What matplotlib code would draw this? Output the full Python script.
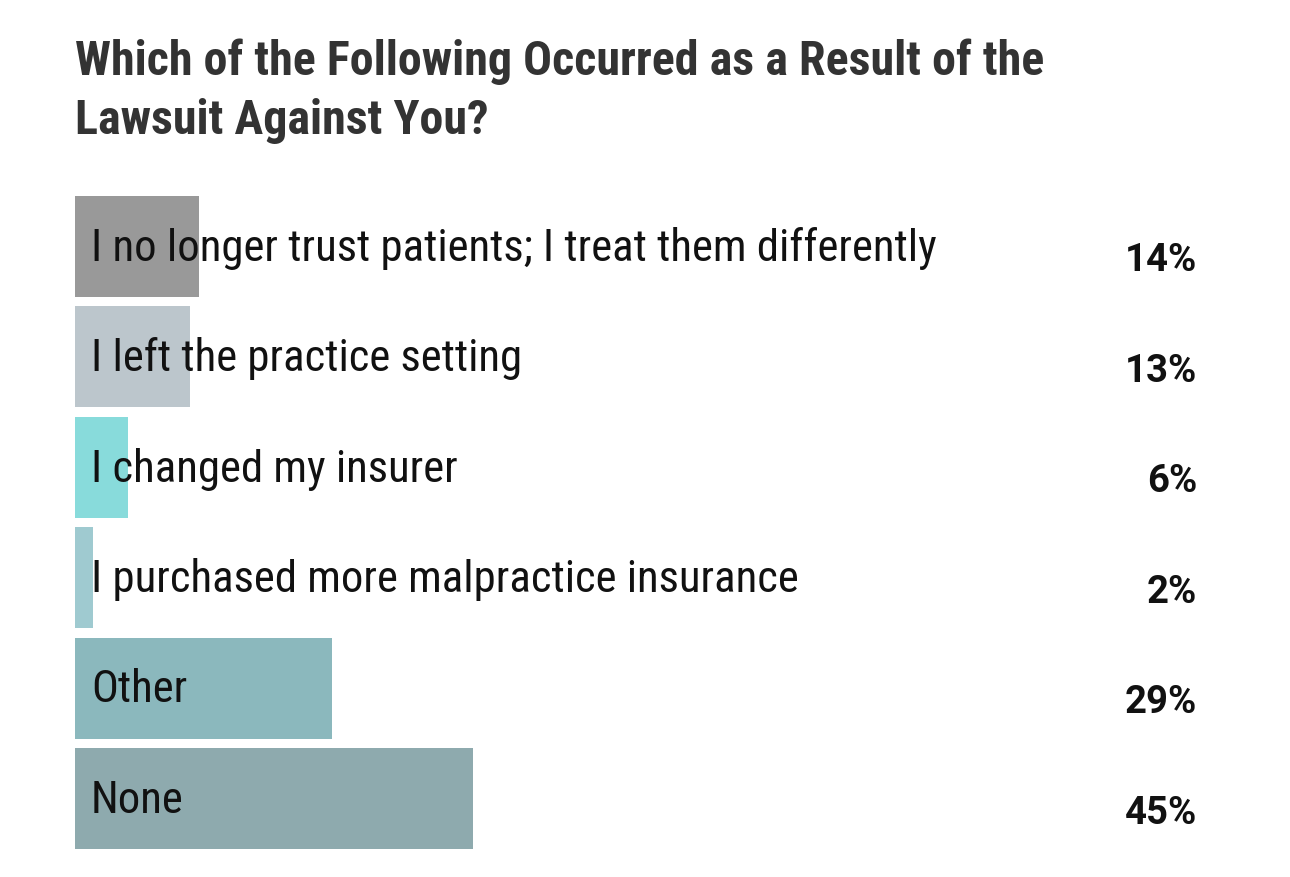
import matplotlib.pyplot as plt
from matplotlib import font_manager

# survey answers and shares (%)
answers = ['I no longer trust patients; I treat them differently',
           'I left the practice setting',
           'I changed my insurer',
           'I purchased more malpractice insurance',
           'Other',
           'None']
shares = [14, 13, 6, 2, 29, 45]
bar_colors = ['#999999', '#bcc6cc', '#88dbdb', '#9fcad0', '#8bb8bd', '#8eaaae']
title = 'Which of the Following Occurred as a Result of the\nLawsuit Against You?'

names = {f.name for f in font_manager.fontManager.ttflist}
fam = ['Roboto Condensed', 'Roboto', 'DejaVu Sans']
plt.rcParams['font.family'] = [f for f in fam if f in names] + ['DejaVu Sans']
pct_font = ['Roboto', 'DejaVu Sans']

W, H = 1290, 878
fig = plt.figure(figsize=(W / 100, H / 100), dpi=100)
ax = fig.add_axes([75 / W, 1 - 855 / H, 1120 / W, 663 / H])

px_per_pct = 8.85
ax.set_xlim(0, 1120 / px_per_pct)
ax.set_ylim(len(answers) - 0.5, -0.5)

ypos = list(range(len(answers)))
ax.barh(ypos, shares, height=0.915, color=bar_colors)

for y, txt, v in zip(ypos, answers, shares):
    ax.text(16 / px_per_pct, y + 0.01, txt, ha='left', va='center',
            fontsize=32.2, color='#111111')
    ax.text(1122 / px_per_pct, y + 0.12, f'{v}%', ha='right', va='center',
            fontsize=27.5, fontweight='bold', color='#111111', family=pct_font)

ax.axis('off')

fig.text(75 / W, 1 - 38 / H, title, ha='left', va='top', fontsize=34.6,
         fontweight='bold', color='#333333', linespacing=1.38)

fig.savefig('out.png', dpi=100)
